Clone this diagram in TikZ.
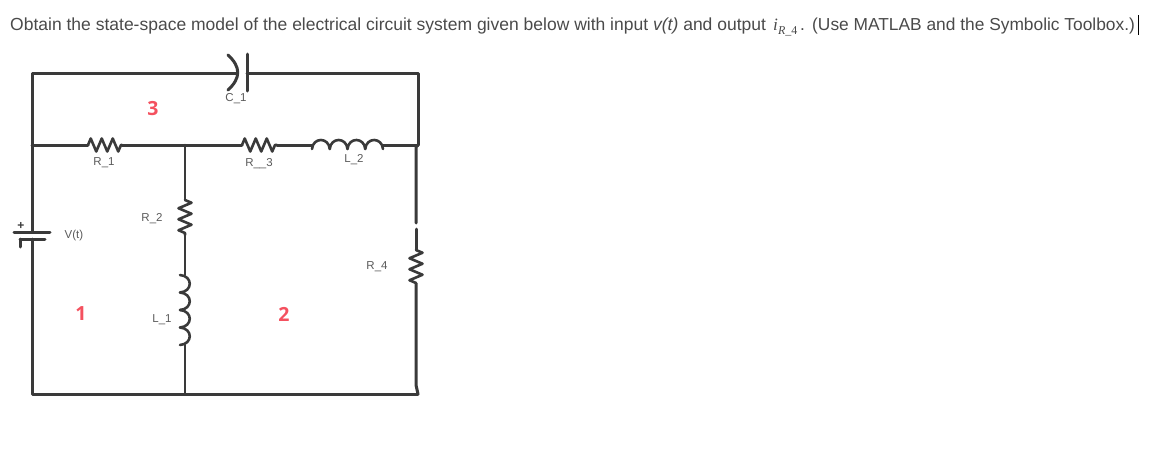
\documentclass[tikz,border=0pt]{standalone}
\usepackage{fontspec}
\setmainfont{Liberation Sans}
\newfontfamily\numfont{Open Sans}
\newfontfamily\serfont{Liberation Serif}
\usepackage{tikz}
\usetikzlibrary{calc}
\usetikzlibrary{decorations.pathmorphing}
\definecolor{wirecol}{HTML}{3A3A3A}
\definecolor{textcol}{HTML}{4A4A4A}
\definecolor{labelcol}{HTML}{5A5A5A}
\definecolor{loopred}{HTML}{F4515F}
\begin{document}
\begin{tikzpicture}[x=1pt,y=-1pt, wire/.style = {draw=wirecol,line width=3pt,line cap=round,line join=round},
		thin wire/.style = {draw=wirecol,line width=2.6pt,line cap=round,line join=round},
		res/.style = {thin wire,decorate,decoration={zigzag,segment length=11pt,amplitude=6.5pt}},
		lab/.style = {text=labelcol,inner sep=0,font=\fontsize{11.5}{12}\selectfont},
		num/.style = {text=loopred,inner sep=0,font=\numfont\bfseries\fontsize{19.5}{20}\selectfont},
		ttl/.style = {text=textcol,inner sep=0,anchor=base west,font=\fontsize{17.35}{19}\selectfont}
		]
		\useasboundingbox (0,0) rectangle (1165,453);
		% question line
		\node[ttl,font=\fontsize{17.5}{19}\selectfont] (q1) at (10,30.5) {Obtain the state-space model of the electrical circuit system given below with input \emph{v(t)} and output};
		\node[ttl] (q2) at (773,30.5) {\serfont\itshape i\raisebox{-3.5pt}{\fontsize{12}{12}\selectfont R\upshape\_4}};
		\node[ttl] (q2b) at (800,30.5) {.};
		\node[ttl] (q3) at (812,30.5) {(Use MATLAB and the Symbolic Toolbox.)};
		\coordinate (c1) at (1138,15);
		\coordinate (c2) at (1138,35);
		\draw[black,line width=1pt] (c1) -- (c2);
		% corners and junctions
		\coordinate (tl) at (32,73);
		\coordinate (tr) at (418,73);
		\coordinate (ml) at (32,145);
		\coordinate (mj) at (185,145);
		\coordinate (mr) at (418,145);
		\coordinate (bl) at (32,394);
		\coordinate (bj) at (185,394);
		\coordinate (br) at (418,394);
		\coordinate (ra) at (416,147);
		\coordinate (rb) at (416,385);
		\coordinate (ga) at (416,223);
		\coordinate (gb) at (416,229);
		% element ends
		\coordinate (C1a) at (237,73);
		\coordinate (C1b) at (247,73);
		\coordinate (C1c) at (228,55);
		\coordinate (C1d) at (228,90);
		\coordinate (C1e) at (247,54);
		\coordinate (C1f) at (247,91);
		\coordinate (R1a) at (88,145);
		\coordinate (R1b) at (122,145);
		\coordinate (R3a) at (242,145);
		\coordinate (R3b) at (277,145);
		\coordinate (L2a) at (312,145);
		\coordinate (L2b) at (383,145);
		\coordinate (R2a) at (185,200);
		\coordinate (R2b) at (185,235);
		\coordinate (L1a) at (185,275);
		\coordinate (L1b) at (185,345);
		\coordinate (R4a) at (416,250);
		\coordinate (R4b) at (416,283);
		\coordinate (Va) at (32,232);
		\coordinate (Vb) at (32,239);
		\coordinate (Vc) at (14,232);
		\coordinate (Vd) at (50,232);
		\coordinate (Ve) at (20,239);
		\coordinate (Vf) at (45,239);
		\coordinate (Vg) at (20,247);
		% wires
		\draw[wire] (C1a) -- (tl) -- (Va);
		\draw[wire] (Vb) -- (bl) -- (br);
		\draw[wire] (C1b) -- (tr) -- (mr);
		\draw[wire] (ml) -- (R1a);
		\draw[wire] (R1b) -- (mj) -- (R3a);
		\draw[wire] (R3b) -- (L2a);
		\draw[wire] (L2b) -- (mr);
		\draw[thin wire] (mj) -- (R2a);
		\draw[thin wire] (R2b) -- (L1a);
		\draw[thin wire] (L1b) -- (bj);
		\draw[wire] (mr) -- (ra) -- (ga);
		\draw[wire] (gb) -- (R4a);
		\draw[wire] (R4b) -- (rb) -- (br);
		% resistors
		\draw[res] (R1a) -- (R1b);
		\draw[res] (R3a) -- (R3b);
		\draw[res] (R2a) -- (R2b);
		\draw[res] (R4a) -- (R4b);
		% coils
		\foreach \i in {0,1,2,3} {
			\draw[thin wire] ($(L2a)+(\i*17.75,4)$) .. controls +(1,-12) and +(-1,-12) .. +(17.75,0);
			\draw[thin wire] ($(L1a)+(-5,\i*17.5)$) .. controls +(13,1) and +(13,-1) .. +(0,17.5);
		}
		% capacitor and source plates
		\draw[wire] (C1c) .. controls (241,67) and (241,78) .. (C1d);
		\draw[wire] (C1e) -- (C1f);
		\draw[wire] (Vc) -- (Vd);
		\draw[wire] (Ve) -- (Vf);
		\draw[wire] (Ve) -- (Vg);
		% labels
		\node[lab] (lR1) at (104,163) {R\_1};
		\node[lab] (lR2) at (152,219) {R\_2};
		\node[lab] (lR3) at (259,164) {R\_\_3};
		\node[lab] (lR4) at (377,267) {R\_4};
		\node[lab] (lL1) at (162,320) {L\_1};
		\node[lab] (lL2) at (354,160) {L\_2};
		\node[lab] (lC1) at (236,99) {C\_1};
		\node[lab] (lV) at (74,236) {V(t)};
		\node[lab,text=wirecol,font=\bfseries\fontsize{12}{12}\selectfont] (plus) at (21,226) {+};
		\node[num] (n3) at (153,109) {3};
		\node[num] (n1) at (81,314) {1};
		\node[num] (n2) at (284,314) {2};
	\end{tikzpicture}
\end{document}
